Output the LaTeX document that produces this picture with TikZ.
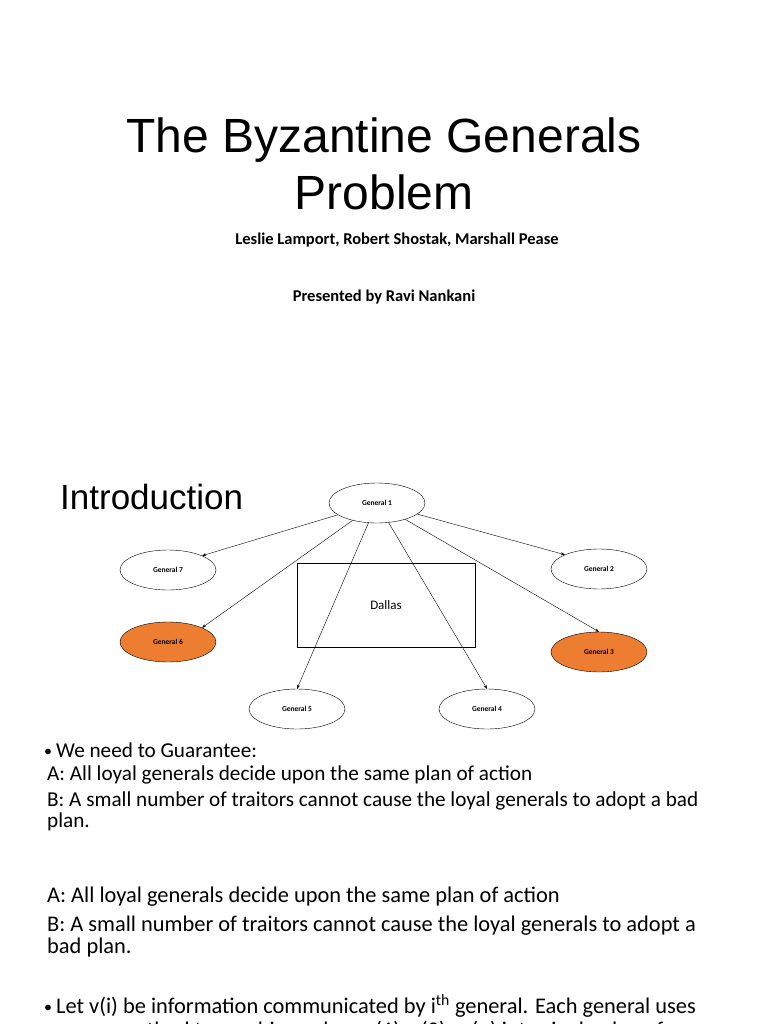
\documentclass[tikz,border=0pt]{standalone}
\usepackage{fontspec}
\setmainfont{Carlito}
\newfontfamily\arialf{Liberation Sans}
\usetikzlibrary{shapes.geometric,arrows.meta}
\definecolor{orng}{HTML}{ED7D31}
\newcommand{\mybul}{\raisebox{0.12ex}{\fontsize{16}{16}\selectfont•}}
\begin{document}
\begin{tikzpicture}[x=1pt,y=-1pt,
 gen/.style={ellipse,draw,thin,minimum width=96pt,minimum height=40pt,inner sep=0pt,font=\fontsize{7.5}{8}\selectfont\bfseries},
 bad/.style={gen,fill=orng},
 arr/.style={-{Stealth[length=4pt,width=3pt]},thin},
 body/.style={anchor=west,font=\fontsize{21.2}{24}\selectfont,inner sep=0pt},
 bodyb/.style={anchor=west,font=\fontsize{22.4}{24}\selectfont,inner sep=0pt}]
\useasboundingbox (0,0) rectangle (768,1024);
\clip (0,0) rectangle (768,1024);
\node (t1) at (384,140) {\arialf\fontsize{48}{52}\selectfont The Byzantine Generals};
\node (t2) at (384,192) {\arialf\fontsize{48}{52}\selectfont Problem};
\node (au) at (397,240) {\fontsize{16.5}{18}\selectfont\bfseries Leslie Lamport, Robert Shostak, Marshall Pease};
\node (pr) at (384,297) {\fontsize{16.5}{18}\selectfont\bfseries Presented by Ravi Nankani};
\node[anchor=west,inner sep=0pt] (intro) at (60,497) {\arialf\fontsize{35}{38}\selectfont Introduction};
\node[gen] (g1) at (377,503) {General 1};
\node[gen] (g7) at (168,570) {General 7};
\node[gen] (g2) at (599,569) {General 2};
\node[bad] (g6) at (168,642) {General 6};
\node[bad] (g3) at (599,652) {General 3};
\node[gen] (g5) at (297,709) {General 5};
\node[gen] (g4) at (487,709) {General 4};
\node[draw,thin,minimum width=178pt,minimum height=84pt,font=\fontsize{13}{14}\selectfont] (dal) at (386,605) {Dallas};
\draw[arr] (g1) -- (g7.north east);
\draw[arr] (g1) -- (g2.north west);
\draw[arr] (g1) -- (g6.north east);
\draw[arr] (g1) -- (g3.north);
\draw[arr] (g1) -- (g5.north);
\draw[arr] (g1) -- (g4.north);
\node[body] (b1) at (44,750) {\mybul\hspace{4pt}We need to Guarantee:};
\node[body] (l1) at (47,775) {A: All loyal generals decide upon the same plan of action};
\node[body] (l2) at (47,801) {B: A small number of traitors cannot cause the loyal generals to adopt a bad};
\node[body] (l3) at (47,822) {plan.};
\node[bodyb] (m1) at (47,897) {A: All loyal generals decide upon the same plan of action};
\node[bodyb] (m2) at (47,926) {B: A small number of traitors cannot cause the loyal generals to adopt a};
\node[bodyb] (m3) at (47,948) {bad plan.};
\node[bodyb] (n1) at (44,1006) {\mybul\hspace{4pt}Let v(i) be information communicated by i\textsuperscript{th} general. Each general uses};
\node[bodyb] (n2) at (63,1031) {some method to combine values v(1), v(2)…v(n) into single plan of};
\end{tikzpicture}
\end{document}
